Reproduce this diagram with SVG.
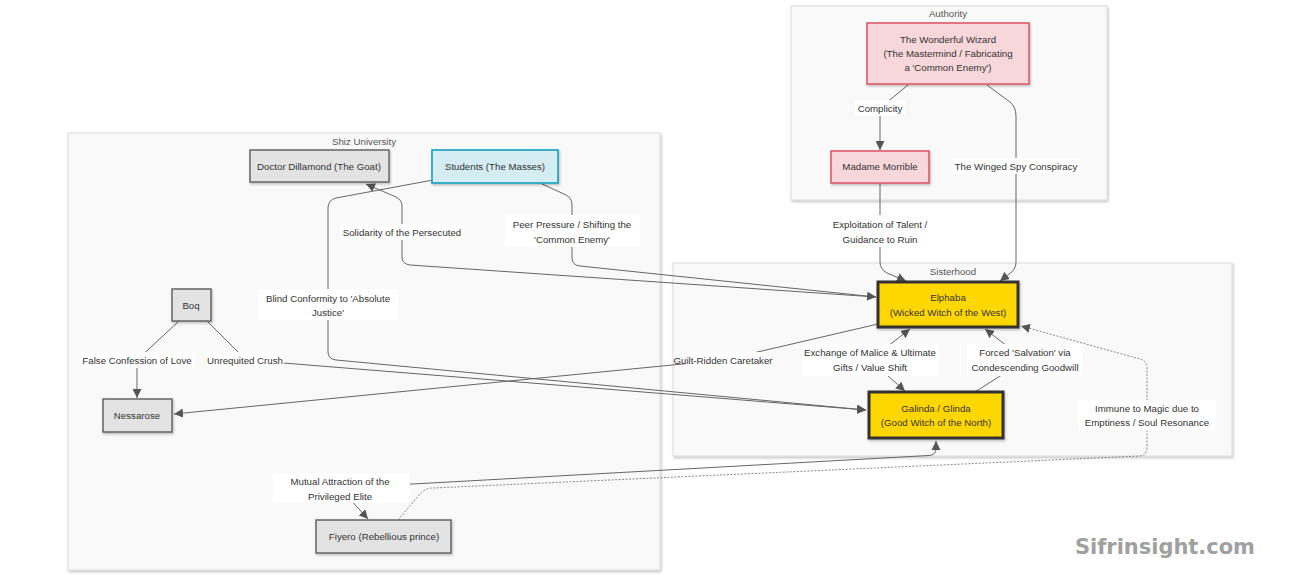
<svg xmlns="http://www.w3.org/2000/svg" width="1300" height="575" viewBox="0 0 1300 575">
<style>
text{font-family:"Liberation Sans",Arial,sans-serif;font-size:9.7px;fill:#333;text-anchor:middle;dominant-baseline:central}
.cl{fill:#f9f9f9;stroke:#dcdcdc;stroke-width:1}
.ct{fill:#555}
.pink{fill:#f8d7da;stroke:#dc5a6a;stroke-width:1.6}
.gray{fill:#e3e3e3;stroke:#666;stroke-width:1.5}
.cyan{fill:#d4edf2;stroke:#2ba8c2;stroke-width:1.8}
.gold{fill:#ffd700;stroke:#333;stroke-width:3}
.e{fill:none;stroke:#666;stroke-width:1}
.d{fill:none;stroke:#888;stroke-width:1;stroke-dasharray:2 1.5}
.lb{fill:#fff}
.wm{font-family:"DejaVu Sans",sans-serif;font-size:21px;font-weight:600;fill:#a0a0a0;text-anchor:start}
</style>
<defs>
<marker id="ah" viewBox="0 0 10 10" refX="10" refY="5" markerWidth="9" markerHeight="9" markerUnits="userSpaceOnUse" orient="auto-start-reverse">
<path d="M0,0 L10,5 L0,10 z" fill="#555"/>
</marker>
<filter id="sh" x="-10%" y="-10%" width="130%" height="140%">
<feDropShadow dx="1" dy="1.5" stdDeviation="1" flood-color="#000" flood-opacity="0.25"/>
</filter>
</defs>
<rect width="1300" height="575" fill="#fff"/>

<g id="cluster-authority">
<rect class="cl" x="791" y="6" width="316" height="194" filter="url(#sh)"/>
<text class="ct" x="948" y="13">Authority</text>
</g>
<g id="cluster-shiz">
<rect class="cl" x="68" y="133" width="592" height="437" filter="url(#sh)"/>
<text class="ct" x="364" y="141">Shiz University</text>
</g>
<g id="cluster-sisterhood">
<rect class="cl" x="673" y="263" width="559" height="193" filter="url(#sh)"/>
<text class="ct" x="953" y="271">Sisterhood</text>
</g>

<g id="connectors">
<path class="e" d="M908,85 L880,108 L880,150" marker-end="url(#ah)"/>
<path class="e" d="M987,85 L1010,102 Q1016,107 1016,116 L1016,262 Q1016,270 1009,274 L1000,281" marker-end="url(#ah)"/>
<path class="e" d="M880,183 L880,262 Q880,269 887,273 L906,281" marker-end="url(#ah)"/>
<path class="e" d="M876,297 L410,265 Q402,264 402,257 L402,206 Q402,200 396,197 L366,184" marker-end="url(#ah)"/>
<path class="e" d="M540,183 L566,195 Q572,198 572,205 L572,258 Q572,265 580,266 L876,297" marker-end="url(#ah)"/>
<path class="e" d="M433,180 L336,198 Q328,200 328,208 L328,352 Q328,359 336,360 L866,410" marker-end="url(#ah)"/>
<path class="e" d="M207,321 L246,360 L866,410" marker-end="url(#ah)"/>
<path class="e" d="M179,321 L137,360 L137,398" marker-end="url(#ah)"/>
<path class="e" d="M878,324 L723,360 L174,414" marker-end="url(#ah)"/>
<path class="e" d="M910,329 L870,360 L905,391" marker-start="url(#ah)" marker-end="url(#ah)"/>
<path class="e" d="M975,392 L1025,360 L985,329" marker-end="url(#ah)"/>
<path class="d" d="M398,520 L420,494 Q425,488 433,488 L1140,456 Q1147,455 1147,448 L1147,368 Q1147,361 1140,359 L1021,326" marker-end="url(#ah)"/>
<path class="e" d="M936,441 L936,449 Q936,455 929,455.5 L340,488 L368,519" marker-start="url(#ah)" marker-end="url(#ah)"/>

<rect class="lb" x="855" y="100" width="50" height="16"/>
<text x="880" y="108">Complicity</text>
<rect class="lb" x="952" y="158" width="128" height="16"/>
<text x="1016" y="166">The Winged Spy Conspiracy</text>
<rect class="lb" x="826" y="215" width="108" height="32"/>
<text x="880" y="224">Exploitation of Talent /</text>
<text x="880" y="239">Guidance to Ruin</text>
<rect class="lb" x="340" y="224" width="124" height="16"/>
<text x="402" y="232">Solidarity of the Persecuted</text>
<rect class="lb" x="505" y="215" width="135" height="32"/>
<text x="572" y="224">Peer Pressure / Shifting the</text>
<text x="572" y="239">'Common Enemy'</text>
<rect class="lb" x="258" y="289" width="140" height="31"/>
<text x="328" y="298">Blind Conformity to 'Absolute</text>
<text x="328" y="312">Justice'</text>
<rect class="lb" x="80" y="352" width="114" height="16"/>
<text x="137" y="360">False Confession of Love</text>
<rect class="lb" x="206" y="352" width="78" height="16"/>
<text x="245" y="360">Unrequited Crush</text>
<rect class="lb" x="685" y="352" width="77" height="16"/>
<text x="723" y="360">Guilt-Ridden Caretaker</text>
<rect class="lb" x="802" y="344" width="136" height="32"/>
<text x="870" y="352">Exchange of Malice &amp; Ultimate</text>
<text x="870" y="367">Gifts / Value Shift</text>
<rect class="lb" x="967" y="344" width="116" height="32"/>
<text x="1025" y="352">Forced 'Salvation' via</text>
<text x="1025" y="367">Condescending Goodwill</text>
<rect class="lb" x="1078" y="400" width="138" height="31"/>
<text x="1147" y="408">Immune to Magic due to</text>
<text x="1147" y="422">Emptiness / Soul Resonance</text>
<rect class="lb" x="273" y="473" width="137" height="30"/>
<text x="340" y="481">Mutual Attraction of the</text>
<text x="340" y="496">Privileged Elite</text>
</g>

<g id="wizard">
<rect class="pink" x="867" y="23" width="162" height="61" filter="url(#sh)"/>
<text x="948" y="39">The Wonderful Wizard</text>
<text x="948" y="53">(The Mastermind / Fabricating</text>
<text x="948" y="67">a 'Common Enemy')</text>
</g>
<g id="morrible">
<rect class="pink" x="831" y="151" width="98" height="32" filter="url(#sh)"/>
<text x="880" y="166">Madame Morrible</text>
</g>
<g id="dillamond">
<rect class="gray" x="250" y="150" width="139" height="32" filter="url(#sh)"/>
<text x="319" y="166">Doctor Dillamond (The Goat)</text>
</g>
<g id="students">
<rect class="cyan" x="432" y="150" width="126" height="33" filter="url(#sh)"/>
<text x="495" y="166">Students (The Masses)</text>
</g>
<g id="boq">
<rect class="gray" x="172" y="289" width="39" height="32" filter="url(#sh)"/>
<text x="191" y="305">Boq</text>
</g>
<g id="nessarose">
<rect class="gray" x="103" y="399" width="69" height="33" filter="url(#sh)"/>
<text x="137" y="415">Nessarose</text>
</g>
<g id="fiyero">
<rect class="gray" x="316" y="520" width="135" height="33" filter="url(#sh)"/>
<text x="384" y="536">Fiyero (Rebellious prince)</text>
</g>
<g id="elphaba">
<rect class="gold" x="878" y="282" width="140" height="45" filter="url(#sh)"/>
<text x="948" y="297">Elphaba</text>
<text x="948" y="312">(Wicked Witch of the West)</text>
</g>
<g id="galinda">
<rect class="gold" x="869" y="392" width="134" height="46" filter="url(#sh)"/>
<text x="936" y="408">Galinda / Glinda</text>
<text x="936" y="422">(Good Witch of the North)</text>
</g>

<text class="wm" x="1075" y="547" textLength="180" lengthAdjust="spacing">Sifrinsight.com</text>
</svg>
